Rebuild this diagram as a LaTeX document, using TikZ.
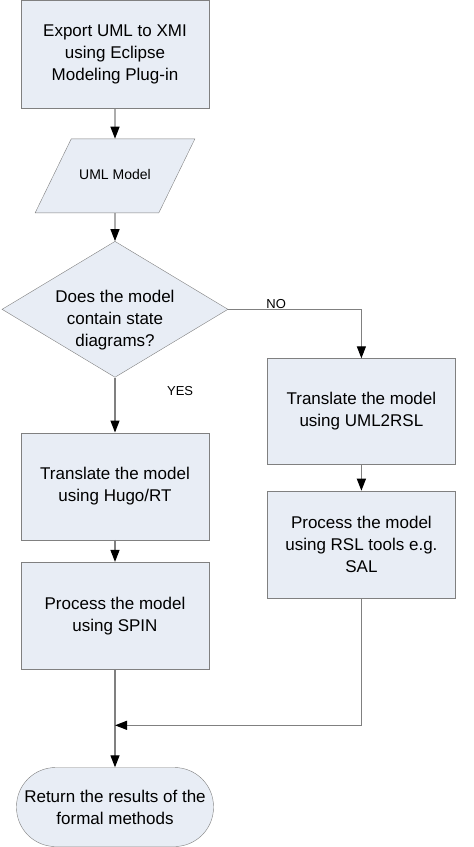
\documentclass[tikz,border=0pt]{standalone}
\usepackage{fontspec}
\setmainfont{Liberation Sans}
\usepackage{xcolor}
\usetikzlibrary{shapes.geometric, arrows.meta, positioning}

\definecolor{boxfill}{RGB}{232,237,245}
\definecolor{linegray}{RGB}{128,128,128}

\begin{document}
\begin{tikzpicture}[
  x=1pt, y=1pt,
  font=\fontsize{17}{22}\selectfont,
  process/.style={rectangle, draw=linegray, fill=boxfill, minimum width=188pt, minimum height=107pt, align=center, inner sep=0pt},
  data/.style={trapezium, trapezium left angle=64, trapezium right angle=116, draw=linegray, fill=boxfill, text height=10pt, text depth=3pt, inner xsep=8pt, inner ysep=30.5pt, font=\fontsize{14}{17}\selectfont},
  decision/.style={diamond, draw=linegray, fill=boxfill, minimum width=226pt, minimum height=136pt, inner sep=0pt},
  terminal/.style={rectangle, rounded corners=39pt, draw=linegray, fill=boxfill, minimum width=197pt, minimum height=79pt, align=center, inner sep=0pt},
  answer/.style={font=\fontsize{13}{15}\selectfont, inner sep=0.5pt},
  arrow/.style={draw=linegray, line width=1.2pt, -{Triangle[length=12pt, width=9pt, color=black]}},
  plainline/.style={draw=linegray, line width=1.2pt}
]
\useasboundingbox (0,0) rectangle (474,-847);

% Main Flow
\node (export) [process, minimum height=108pt] at (115,-54.5) {Export UML to XMI\\using Eclipse\\Modeling Plug-in};
\node (model) [data, below=30pt of export] {UML Model};
\node (question) [decision, below=28pt of model] {};
\node (questiontext) [align=center] at ([yshift=-11pt]question.center) {Does the model\\contain state\\diagrams?};
\node (hugo) [process, below=55pt of question] {Translate the model\\using Hugo/RT};
\node (spin) [process, below=22pt of hugo] {Process the model\\using SPIN};
\node (result) [terminal, below=98pt of spin] {Return the results of the\\formal methods};

% Other Branch
\node (uml2rsl) [process, minimum height=106pt, below right=49pt and 39pt of question.east] {Translate the model\\using UML2RSL};
\node (rsltools) [process, below=26pt of uml2rsl] {Process the model\\using RSL tools e.g.\\SAL};
\coordinate (join) at ([yshift=-56pt]spin.south);

% Arrows
\draw [arrow] (export) -- (model);
\draw [arrow] (model) -- (question);
\draw [arrow] (question) -- (hugo) node[answer, pos=0.24, right=51pt] {YES};
\draw [arrow] (question.east) -| node[answer, pos=0.18, above] {NO} (uml2rsl.north);
\draw [arrow] (hugo) -- (spin);
\draw [arrow] (uml2rsl) -- (rsltools);
\draw [arrow] (spin) -- (result);
\draw [arrow] (rsltools.south) |- (join);
\end{tikzpicture}
\end{document}
